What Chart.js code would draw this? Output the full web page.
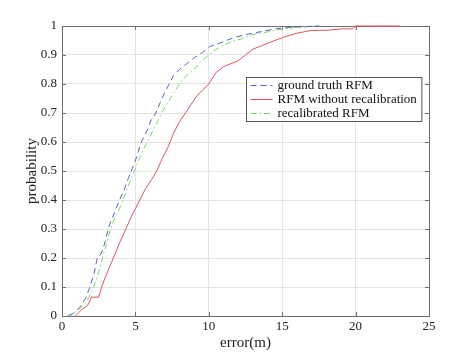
<!DOCTYPE html>
<html>
<head>
<meta charset="utf-8">
<script src="https://cdn.jsdelivr.net/npm/chart.js@4/dist/chart.umd.min.js"></script>
<style>
  html, body { margin: 0; padding: 0; background: #fff; }
  #myChart { display: block; }
</style>
</head>
<body>
<canvas id="myChart" width="474" height="355"></canvas>
<script>
// series (error in m, cumulative probability)
const gtErr = [0.5, 0.8, 1.2, 1.6, 1.9, 2.2, 2.4, 2.6, 2.8, 3.0, 3.2, 3.6, 4.0, 4.2, 4.4, 4.8, 5.1, 5.4, 5.8, 6.1, 6.4, 6.8, 7.2, 7.6, 8.0, 8.5, 9.0, 9.6, 10.1, 10.7, 11.2, 11.7, 12.5, 13.5, 14.5, 15.5, 16.5, 17.5];
const gtProb = [0, 0.01, 0.03, 0.06, 0.1, 0.15, 0.2, 0.21, 0.23, 0.27, 0.31, 0.36, 0.41, 0.43, 0.46, 0.51, 0.55, 0.6, 0.64, 0.68, 0.7, 0.75, 0.79, 0.83, 0.85, 0.87, 0.89, 0.91, 0.93, 0.94, 0.95, 0.96, 0.97, 0.98, 0.99, 0.995, 0.998, 1];

const rawErr = [0.9, 1.3, 1.8, 2.0, 2.5, 2.7, 3.0, 3.5, 3.9, 4.35, 4.7, 5.0, 5.3, 5.7, 6.1, 6.45, 6.8, 7.2, 7.6, 8.0, 8.4, 8.8, 9.2, 9.6, 10.0, 10.5, 11.0, 11.5, 12.0, 12.5, 13.0, 13.5, 14.0, 15.0, 16.0, 17.0, 18.0, 19.0, 19.8, 20.0, 23.0];
const rawProb = [0, 0.02, 0.04, 0.065, 0.065, 0.1, 0.14, 0.2, 0.25, 0.3, 0.34, 0.37, 0.4, 0.44, 0.47, 0.5, 0.54, 0.58, 0.63, 0.67, 0.7, 0.73, 0.76, 0.78, 0.8, 0.84, 0.86, 0.87, 0.88, 0.9, 0.92, 0.93, 0.94, 0.96, 0.975, 0.985, 0.985, 0.99, 0.99, 1, 1];

const recErr = [0.3, 0.8, 1.2, 1.6, 2.0, 2.3, 2.6, 2.8, 3.0, 3.3, 3.6, 4.0, 4.3, 4.6, 5.0, 5.4, 5.8, 6.2, 6.6, 7.0, 7.5, 8.0, 8.5, 9.0, 9.5, 10.0, 10.5, 11.0, 11.5, 12.2, 13.0, 14.0, 15.0, 16.0, 17.5];
const recProb = [0, 0.01, 0.025, 0.045, 0.08, 0.12, 0.17, 0.21, 0.24, 0.3, 0.34, 0.38, 0.42, 0.46, 0.51, 0.56, 0.6, 0.64, 0.68, 0.72, 0.76, 0.8, 0.83, 0.85, 0.88, 0.9, 0.92, 0.935, 0.945, 0.955, 0.97, 0.98, 0.99, 0.995, 1];

const seriesNames = ['ground truth RFM', 'RFM without recalibration', 'recalibrated RFM'];
const xTicks = [0, 5, 10, 15, 20, 25];
const yTicks = [0, 0.1, 0.2, 0.3, 0.4, 0.5, 0.6, 0.7, 0.8, 0.9, 1];

function toPoints(xs, ys) {
    return xs.map(function(x, i) { return {x: x, y: ys[i]}; });
}

const serif = "'Liberation Serif', 'Times New Roman', serif";

// frame around the plot area with small inner ticks (matlab style)
const boxPlugin = {
    id: 'box',
    beforeDatasetsDraw(chart) {
        const ctx = chart.ctx;
        const a = chart.chartArea;
        const xs = chart.scales.x, ys = chart.scales.y;
        ctx.save();
        ctx.strokeStyle = '#6e6e6e';
        ctx.lineWidth = 1;
        ctx.strokeRect(Math.round(a.left) + 0.5, Math.round(a.top) + 0.5, Math.round(a.right - a.left), Math.round(a.bottom - a.top));
        ctx.beginPath();
        xTicks.forEach(function(v) {
            const px = Math.round(xs.getPixelForValue(v)) + 0.5;
            ctx.moveTo(px, a.bottom); ctx.lineTo(px, a.bottom - 4);
            ctx.moveTo(px, a.top); ctx.lineTo(px, a.top + 4);
        });
        yTicks.forEach(function(v) {
            const py = Math.round(ys.getPixelForValue(v)) + 0.5;
            ctx.moveTo(a.left, py); ctx.lineTo(a.left + 4, py);
            ctx.moveTo(a.right, py); ctx.lineTo(a.right - 4, py);
        });
        ctx.stroke();
        ctx.restore();
    },
    afterDraw(chart) {
        // legend box inside the plot, upper right
        const ctx = chart.ctx;
        const a = chart.chartArea;
        ctx.save();
        ctx.font = '13px ' + serif;
        const sets = chart.data.datasets;
        let tw = 0;
        sets.forEach(function(d) { tw = Math.max(tw, ctx.measureText(d.label).width); });
        const rowH = 14;
        const boxW = 31 + tw + 5;
        const boxH = rowH * sets.length + 2;
        const bx = Math.round(a.right - 8 - boxW) + 0.5;
        const by = Math.round(a.top + 51) + 0.5;
        ctx.fillStyle = '#fff';
        ctx.fillRect(bx, by, boxW, boxH);
        ctx.strokeStyle = '#555';
        ctx.strokeRect(bx, by, boxW, boxH);
        sets.forEach(function(d, i) {
            const cy = by + 1 + rowH * i + rowH / 2;
            ctx.save();
            ctx.strokeStyle = d.borderColor;
            ctx.lineWidth = d.borderWidth;
            ctx.setLineDash(d.borderDash || []);
            ctx.beginPath();
            ctx.moveTo(bx + 4, cy);
            ctx.lineTo(bx + 26, cy);
            ctx.stroke();
            ctx.restore();
            ctx.fillStyle = '#111';
            ctx.textBaseline = 'middle';
            ctx.fillText(d.label, bx + 31, cy + 0.5);
        });
        ctx.restore();
    }
};

const ctx = document.getElementById('myChart').getContext('2d');
new Chart(ctx, {
    type: 'line',
    data: {
        datasets: [{
            label: seriesNames[0],
            data: toPoints(gtErr, gtProb),
            borderColor: 'rgb(95, 95, 205)',
            borderWidth: 1,
            borderDash: [6, 4],
            pointRadius: 0,
            fill: false,
            clip: 3,
            tension: 0
        }, {
            label: seriesNames[1],
            data: toPoints(rawErr, rawProb),
            borderColor: 'rgb(222, 85, 95)',
            borderWidth: 1,
            pointRadius: 0,
            fill: false,
            clip: 3,
            tension: 0
        }, {
            label: seriesNames[2],
            data: toPoints(recErr, recProb),
            borderColor: 'rgb(120, 215, 100)',
            borderWidth: 1,
            borderDash: [6, 3, 1.5, 3],
            pointRadius: 0,
            fill: false,
            clip: 3,
            tension: 0
        }]
    },
    options: {
        responsive: false,
        animation: false,
        layout: { padding: { left: 0, right: 45, top: 26, bottom: 0 } },
        plugins: {
            legend: { display: false },
            tooltip: { enabled: false }
        },
        scales: {
            x: {
                type: 'linear',
                min: 0,
                max: 25,
                afterBuildTicks: function(scale) { scale.ticks = xTicks.map(function(v) { return {value: v}; }); },
                afterFit: function(scale) { scale.height = 39; },
                grid: { color: '#e4e4e4', drawTicks: false },
                border: { display: false },
                ticks: { color: '#222', padding: 3, maxRotation: 0, font: { family: serif, size: 13 } },
                title: { display: true, text: 'error(m)', color: '#222', padding: { top: 0, bottom: 3 }, font: { family: serif, size: 15 } }
            },
            y: {
                type: 'linear',
                min: 0,
                max: 1,
                afterBuildTicks: function(scale) { scale.ticks = yTicks.map(function(v) { return {value: v}; }); },
                afterFit: function(scale) { scale.width = 62; },
                grid: { color: '#e4e4e4', drawTicks: false },
                border: { display: false },
                ticks: { color: '#222', padding: 5, font: { family: serif, size: 13 },
                    callback: function(v) { return String(Math.round(v * 10) / 10); } },
                title: { display: true, text: 'probability', color: '#222', padding: { top: 23, bottom: 0 }, font: { family: serif, size: 15 } }
            }
        }
    },
    plugins: [boxPlugin]
});
</script>
</body>
</html>
